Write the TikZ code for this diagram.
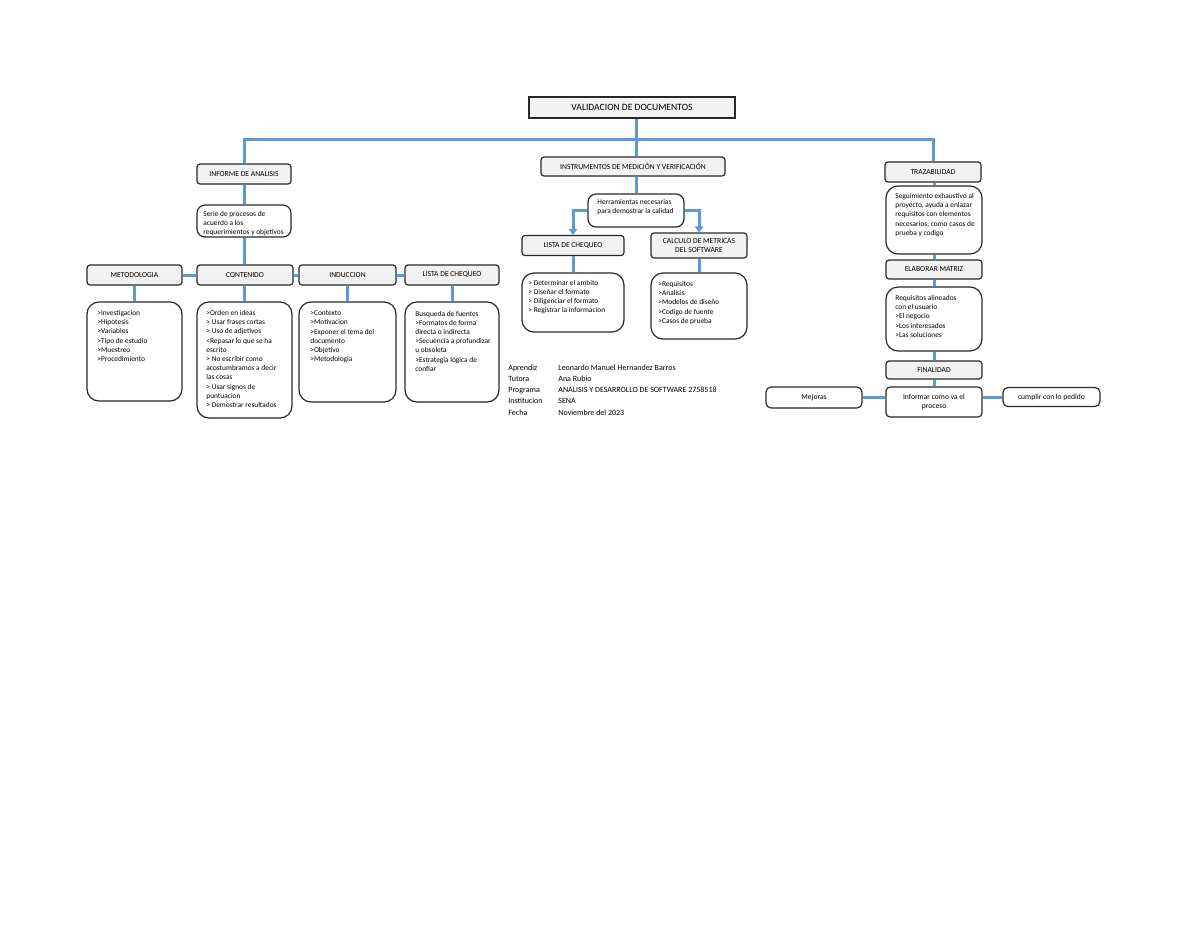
\documentclass[tikz,border=0pt]{standalone}
\usepackage{fontspec}
\setmainfont{Carlito}
\usetikzlibrary{arrows.meta}
\definecolor{lineblue}{RGB}{91,155,213}
\definecolor{hdrgray}{RGB}{242,242,242}
\definecolor{edgec}{RGB}{40,40,40}
\begin{document}
\begin{tikzpicture}[x=0.5pt,y=-0.5pt,
 sz/.style 2 args={minimum width=#1*0.5pt, minimum height=#2*0.5pt},
 hdr/.style={draw=edgec, line width=0.6pt, fill=hdrgray, rounded corners=1.5pt, inner sep=0pt, font=\fontsize{3.8}{4.6}\selectfont, align=center},
 cbox/.style={draw=edgec, line width=0.6pt, fill=white, rounded corners=6pt, inner sep=0pt, font=\fontsize{3.8}{4.6}\selectfont, align=center},
 ctext/.style={anchor=north west, inner sep=0pt, align=left, font=\fontsize{3.7}{4.6}\selectfont},
 conn/.style={draw=lineblue, line width=1.5pt},
 arr/.style={conn, -{Triangle[width=4.2pt,length=3pt]}}
]
\fill[white] (0,0) rectangle (1200,927);
\useasboundingbox (0,0) rectangle (1200,927);

% ---- title ----
\node[hdr, sz={206}{21}, rounded corners=0pt, line width=0.55pt, font=\fontsize{4.8}{5.6}\selectfont] (VAL) at (632,107.5) {VALIDACION DE DOCUMENTOS};
\coordinate (bus) at (636,139);

% ---- left branch ----
\node[hdr, sz={94}{20}] (INF) at (244,174) {INFORME DE ANALISIS};
\node[cbox, sz={94}{32}, rounded corners=4pt] (SER) at (244,221) {};
\node[ctext] (SERt) at (203,210.5) {Serie de procesos de\\acuerdo a los\\requerimientos y objetivos};

\node[hdr, sz={95}{20}] (METO) at (134.5,275) {METODOLOGIA};
\node[hdr, sz={96}{20}] (CONT) at (245,275) {CONTENIDO};
\node[hdr, sz={97}{20}] (IND) at (347.5,275) {INDUCCION};
\node[hdr, sz={94}{20}] (LIS) at (452,275) {LISTA DE CHEQUEO};

\node[cbox, sz={95}{99}] (METOC) at (134.5,351.5) {};
\node[cbox, sz={95}{116}] (CONTC) at (244.5,360) {};
\node[cbox, sz={97}{100}] (INDC) at (347.5,352) {};
\node[cbox, sz={94}{100}] (LISC) at (452,352) {};

\node[ctext] (METOt) at (97,310) {>Investigacion\\>Hipotesis\\>Variables\\>Tipo de estudio\\>Muestreo\\>Procedimiento};
\node[ctext] (CONTt) at (206,310) {>Orden en ideas\\> Usar frases cortas\\> Uso de adjetivos\\<Repasar lo que se ha\\escrito\\> No escribir como\\acostumbramos a decir\\las cosas\\> Usar signos de\\puntuacion\\> Demostrar resultados};
\node[ctext] (INDt) at (310,310.5) {>Contexto\\>Motivacion\\>Exponer el tema del\\documento\\>Objetivo\\>Metodologia};
\node[ctext] (LISt) at (415,310.5) {Busqueda de fuentes\\>Formatos de forma\\directa o indirecta\\>Secuencia a profundizar\\u obsoleta\\>Estrategia lógica de\\confiar};

% ---- middle branch ----
\node[hdr, sz={184}{19}] (INS) at (633,166.5) {INSTRUMENTOS DE MEDICIÓN Y VERIFICACIÓN};
\node[cbox, sz={96}{33}, rounded corners=4pt] (HER) at (636,210.5) {};
\node[ctext] (HERt) at (597,199) {Herramientas necesarias\\para demostrar la calidad};
\node[hdr, sz={102}{20}] (LCH) at (573,245.5) {LISTA DE CHEQUEO};
\node[hdr, sz={96}{25}] (CAL) at (699,245.5) {CALCULO DE METRICAS\\DEL SOFTWARE};
\node[cbox, sz={102}{59}] (LCC) at (573,302.5) {};
\node[cbox, sz={96}{66}] (CALC) at (699,306) {};
\node[ctext] (LCCt) at (528,279.5) {> Determinar el ambito\\> Diseñar el formato\\> Diligenciar el formato\\> Registrar la informacion};
\node[ctext] (CALCt) at (658,281) {>Requisitos\\>Analisis\\>Modelos de diseño\\>Codigo de fuente\\>Casos de prueba};

\node[anchor=north west, inner sep=0pt, font=\fontsize{4}{5.6}\selectfont] (DAT) at (508,362) {%
\begin{tabular}{@{}p{25pt}@{}l@{}}
Aprendiz & Leonardo Manuel Hernandez Barros\\
Tutora & Ana Rubio\\
Programa & ANALISIS Y DESARROLLO DE SOFTWARE 2758518\\
Institucion & SENA\\
Fecha & Noviembre del 2023
\end{tabular}};

% ---- right branch ----
\node[hdr, sz={96}{20}] (TRZ) at (933,172) {TRAZABILIDAD};
\node[cbox, sz={96}{68}] (TRZC) at (934,220) {};
\node[ctext] (TRZt) at (895,193) {Seguimiento exhaustivo al\\proyecto, ayuda a enlazar\\requisitos con elementos\\necesarios, como casos de\\prueba y codigo};
\node[hdr, sz={96}{19}] (ELAB) at (934,269.5) {ELABORAR MATRIZ};
\node[cbox, sz={96}{64}] (ELABC) at (934,319) {};
\node[ctext] (ELABt) at (895,295) {Requisitos alineados\\con el usuario\\>El negocio\\>Los interesados\\>Las soluciones};
\node[hdr, sz={96}{18}] (FIN) at (934,370) {FINALIDAD};
\node[cbox, sz={96}{30}, rounded corners=2pt] (INFO) at (934,402) {Informar como va el\\proceso};
\node[cbox, sz={96}{21}, rounded corners=2.5pt] (MEJ) at (814,397.5) {Mejoras};
\node[cbox, sz={97}{19}, rounded corners=2.5pt] (CUM) at (1051.5,397) {cumplir con lo pedido};

% ---- connectors ----
\draw[conn] (VAL.south -| bus) -- (INS.north -| bus);
\draw[conn] (INF.north) |- (TRZ.north |- bus) -- (TRZ.north);
\draw[conn] (INF.south) -- (SER.north);
\draw[conn] (SER.south) -- (SER.south |- CONT.north);
\draw[conn] (METO.east) -- (CONT.west);
\draw[conn] (CONT.east) -- (IND.west);
\draw[conn] (IND.east) -- (LIS.west);
\draw[conn] (METO.south) -- (METOC.north);
\draw[conn] (CONTC.north |- CONT.south) -- (CONTC.north);
\draw[conn] (IND.south) -- (INDC.north);
\draw[conn] (LIS.south) -- (LISC.north);

\draw[conn] (INS.south -| HER.north) -- (HER.north);
\draw[arr] (HER.west) -| (LCH.north);
\draw[arr] (HER.east) -| (CAL.north);
\draw[conn] (LCH.south) -- (LCC.north);
\draw[conn] (CAL.south) -- (CALC.north);

\draw[conn] (TRZ.south -| TRZC.north) -- (TRZC.north);
\draw[conn] (TRZC.south) -- (ELAB.north);
\draw[conn] (ELAB.south) -- (ELABC.north);
\draw[conn] (ELABC.south) -- (FIN.north);
\draw[conn] (FIN.south) -- (INFO.north);
\draw[conn] (MEJ.east) -- (INFO.west |- MEJ.east);
\draw[conn] (INFO.east |- CUM.west) -- (CUM.west);
\end{tikzpicture}
\end{document}
